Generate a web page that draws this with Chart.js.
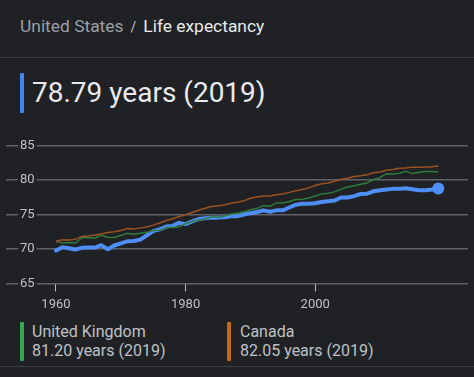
<!DOCTYPE html>
<html>
<head>
<meta charset="utf-8">
<script src="https://cdn.jsdelivr.net/npm/chart.js@4"></script>
<style>
  html, body { margin: 0; padding: 0; background: #202124; width: 474px; height: 377px; overflow: hidden; font-family: Roboto, "Noto Sans", sans-serif; }
  .crumb { position: absolute; left: 20px; top: 16px; font-size: 17.4px; color: #9aa0a6; white-space: nowrap; }
  .crumb .sep { font-size: 14px; margin: 0 7px; color: #bdc1c6; }
  .crumb .cur { color: #e8eaed; }
  .rule { position: absolute; left: 0; width: 474px; height: 1px; background: #3c4043; }
  .bar { position: absolute; width: 4px; border-radius: 1px; }
  .big { position: absolute; left: 32px; top: 74px; font-size: 28px; color: #e8eaed; white-space: nowrap; line-height: 38px; }
  .leg { position: absolute; top: 322px; font-size: 16px; color: #bdc1c6; line-height: 19px; white-space: nowrap; }
  #wrap { position: absolute; left: 0; top: 124px; width: 474px; height: 195px; }
</style>
</head>
<body>
<div class="crumb">United States<span class="sep">/</span><span class="cur">Life expectancy</span></div>
<div class="rule" style="top:57px"></div>
<div class="bar" style="left:20px; top:73px; height:40px; background:#4285f4"></div>
<div class="big">78.79 years (2019)</div>
<div id="wrap"><canvas id="lifeChart"></canvas></div>
<div class="bar" style="left:20px; top:322px; height:39px; background:#34a853"></div>
<div class="leg" style="left:32px">United Kingdom<br>81.20 years (2019)</div>
<div class="bar" style="left:227px; top:322px; height:39px; background:#c86a12"></div>
<div class="leg" style="left:240px">Canada<br>82.05 years (2019)</div>
<div class="rule" style="top:366px"></div>

<script>
const years = Array.from({ length: 60 }, (_, i) => 1960 + i);

const usValues = [69.77, 70.27, 70.12, 69.92, 70.17, 70.21, 70.21, 70.56, 69.95, 70.51,
    70.81, 71.11, 71.16, 71.36, 71.96, 72.60, 72.86, 73.26, 73.36, 73.80,
    73.61, 74.01, 74.36, 74.46, 74.56, 74.56, 74.61, 74.77, 74.77, 75.02,
    75.21, 75.37, 75.62, 75.42, 75.62, 75.62, 76.03, 76.43, 76.58, 76.58,
    76.64, 76.84, 76.94, 77.04, 77.49, 77.49, 77.69, 77.99, 78.04, 78.39,
    78.54, 78.64, 78.74, 78.74, 78.84, 78.69, 78.54, 78.54, 78.64, 78.79];

const ukValues = [71.13, 70.88, 70.93, 70.83, 71.63, 71.63, 71.58, 72.03, 71.68, 71.68,
    71.97, 72.27, 72.13, 72.28, 72.44, 72.69, 72.74, 73.14, 73.14, 73.24,
    73.68, 74.00, 74.20, 74.35, 74.70, 74.60, 74.80, 75.10, 75.20, 75.40,
    75.70, 75.90, 76.30, 76.20, 76.70, 76.70, 76.90, 77.20, 77.20, 77.40,
    77.70, 78.00, 78.10, 78.30, 78.70, 79.00, 79.20, 79.40, 79.60, 80.10,
    80.40, 80.95, 80.90, 81.00, 81.30, 80.96, 81.16, 81.26, 81.26, 81.20];

const canadaValues = [71.13, 71.35, 71.31, 71.40, 71.83, 71.89, 72.05, 72.19, 72.39, 72.50,
    72.70, 72.98, 72.89, 73.07, 73.19, 73.47, 73.78, 74.13, 74.40, 74.73,
    74.99, 75.30, 75.63, 75.92, 76.17, 76.29, 76.40, 76.65, 76.81, 77.00,
    77.38, 77.57, 77.69, 77.70, 77.90, 77.98, 78.23, 78.48, 78.64, 78.88,
    79.24, 79.49, 79.59, 79.84, 80.14, 80.29, 80.54, 80.64, 80.79, 81.09,
    81.20, 81.45, 81.57, 81.72, 81.76, 81.90, 81.90, 81.92, 81.95, 82.05];

const xTicks = [1960, 1980, 2000];
const yTicks = [65, 70, 75, 80, 85];

function toPoints(vals) {
    return vals.map((v, i) => ({ x: years[i], y: v }));
}

const lastIdx = years.length - 1;

new Chart(document.getElementById("lifeChart").getContext("2d"), {
    type: "line",
    data: {
        datasets: [{
            label: "Canada",
            data: toPoints(canadaValues),
            borderColor: "#9a5222",
            borderWidth: 1.5,
            pointRadius: 0,
            tension: 0
        }, {
            label: "United Kingdom",
            data: toPoints(ukValues),
            borderColor: "#2f7a3c",
            borderWidth: 1.5,
            pointRadius: 0,
            tension: 0
        }, {
            label: "United States",
            data: toPoints(usValues),
            borderColor: "#4d8ef7",
            borderWidth: 4,
            borderJoinStyle: "round",
            borderCapStyle: "round",
            tension: 0,
            pointRadius: usValues.map((_, i) => i === lastIdx ? 6 : 0),
            pointBackgroundColor: "#4d8ef7",
            pointBorderWidth: 0
        }]
    },
    options: {
        responsive: true,
        maintainAspectRatio: false,
        animation: false,
        layout: { padding: { top: 10, left: 0, right: 0, bottom: 0 } },
        plugins: {
            legend: { display: false },
            tooltip: { enabled: false }
        },
        scales: {
            x: {
                type: "linear",
                min: 1952.29,
                max: 2023.58,
                afterBuildTicks: scale => { scale.ticks = xTicks.map(v => ({ value: v })); },
                ticks: {
                    color: "#bdc1c6",
                    font: { size: 13, family: "Roboto" },
                    padding: 6,
                    maxRotation: 0,
                    callback: v => String(v)
                },
                grid: {
                    drawOnChartArea: false,
                    drawTicks: true,
                    tickLength: 8,
                    color: "#bdc1c6",
                    lineWidth: 1
                },
                border: { display: false }
            },
            y: {
                min: 65,
                max: 85,
                afterBuildTicks: scale => { scale.ticks = yTicks.map(v => ({ value: v })); },
                afterFit: scale => { scale.width = 0; },
                ticks: {
                    mirror: true,
                    padding: 14,
                    color: "#bdc1c6",
                    font: { size: 13, family: "Roboto" },
                    showLabelBackdrop: true,
                    backdropColor: "#202124",
                    backdropPadding: { left: 2, right: 2, top: 0, bottom: 0 },
                    z: 1
                },
                grid: {
                    drawTicks: false,
                    color: "#5f6368",
                    lineWidth: 1.5
                },
                border: { display: false }
            }
        }
    }
});
</script>
</body>
</html>
